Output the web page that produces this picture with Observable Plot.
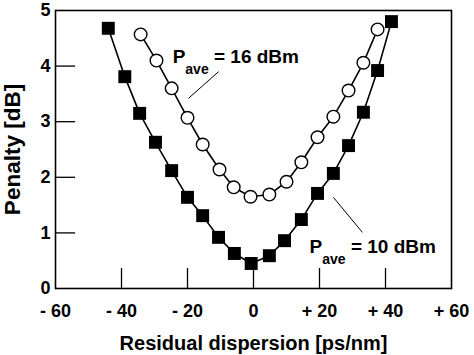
<!DOCTYPE html>
<html>
<head>
<meta charset="utf-8">
<script src="https://cdn.jsdelivr.net/npm/d3@7"></script>
<script src="https://cdn.jsdelivr.net/npm/@observablehq/plot@0.6"></script>
<style>
  html, body { margin: 0; padding: 0; background: #fff; }
  #chart svg { display: block; }
</style>
</head>
<body>
<div id="chart"></div>
<script>
// --- data ---
const squareX = [-44, -39, -34.5, -29.7, -24.8, -20, -15.4, -10.6, -5.8, -0.7, 4.8, 9.4, 14.5, 19.4, 24.2, 28.8, 33.3, 37.6, 41.8];
const squareY = [4.68, 3.81, 3.15, 2.63, 2.12, 1.64, 1.31, 0.92, 0.63, 0.45, 0.59, 0.86, 1.24, 1.71, 2.07, 2.57, 3.17, 3.92, 4.80];
const circleX = [-34.2, -29.4, -24.8, -20, -15.4, -10.3, -6, -0.9, 4.8, 10, 14.5, 19.4, 24.2, 28.8, 33.3, 37.6];
const circleY = [4.57, 4.10, 3.60, 3.07, 2.59, 2.14, 1.82, 1.65, 1.69, 1.92, 2.27, 2.72, 3.09, 3.56, 4.06, 4.66];

const xTickValues = [-60, -40, -20, 0, 20, 40, 60];
const xTickLabels = ["- 60", "- 40", "- 20", "0", "+ 20", "+ 40", "+ 60"];
const yTickValues = [0, 1, 2, 3, 4, 5];
const yTickLabels = ["0", "1", "2", "3", "4", "5"];
const xInnerTicks = [-40, -20, 0, 20, 40];
const yInnerTicks = [1, 2, 3, 4];

const xTitle = "Residual dispersion [ps/nm]";
const yTitle = "Penalty [dB]";

const annotations = [
  {key: "ann16", main: "P", sub: "ave", rest: " = 16 dBm", x: -24.5, y: 4.05, lx1: -19.7, ly1: 3.42, lx2: -10.6, ly2: 3.90},
  {key: "ann10", main: "P", sub: "ave", rest: " = 10 dBm", x: 17, y: 0.63, lx1: 24.2, ly1: 1.64, lx2: 33.0, ly2: 1.01}
];

const squares = squareX.map((x, i) => ({x, y: squareY[i]}));
const circles = circleX.map((x, i) => ({x, y: circleY[i]}));

const FONT = "'Liberation Sans', Arial, Helvetica, sans-serif";

const chart = Plot.plot({
  width: 474,
  height: 355,
  marginLeft: 55,
  marginRight: 23,
  marginTop: 10,
  marginBottom: 67,
  x: {domain: [-60, 60]},
  y: {domain: [0, 5]},
  style: {fontFamily: FONT, background: "#fff", color: "#000", overflow: "visible"},
  marks: [
    Plot.frame({stroke: "#000", strokeWidth: 1.6}),
    Plot.ruleX(xInnerTicks, {x: d => d, y1: 0, y2: 0.36, stroke: "#000", strokeWidth: 1.3}),
    Plot.ruleY(yInnerTicks, {y: d => d, x1: -60, x2: -53.9, stroke: "#000", strokeWidth: 1.3}),
    Plot.axisX({ticks: xTickValues, tickSize: 0, tickPadding: 16, label: null,
      tickFormat: d => xTickLabels[xTickValues.indexOf(d)], fontSize: 18, fontWeight: "bold", fill: "#000",
      letterSpacing: 1.5}),
    Plot.axisY({ticks: yTickValues, tickSize: 0, tickPadding: 5, label: null,
      tickFormat: d => yTickLabels[yTickValues.indexOf(d)], fontSize: 18, fontWeight: "bold", fill: "#000"}),
    Plot.text([xTitle], {frameAnchor: "bottom", textAnchor: "middle", lineAnchor: "bottom", dy: 61,
      text: d => d, fontSize: 20, fontWeight: "bold", fill: "#000", letterSpacing: 1}),
    Plot.text([yTitle], {frameAnchor: "left", textAnchor: "middle", lineAnchor: "middle", dx: -43, rotate: -90,
      text: d => d, fontSize: 22.5, fontWeight: "bold", fill: "#000"}),
    Plot.line(squares, {x: "x", y: "y", stroke: "#000", strokeWidth: 1.6}),
    Plot.line(circles, {x: "x", y: "y", stroke: "#000", strokeWidth: 1.6}),
    Plot.dot(squares, {x: "x", y: "y", symbol: "square", r: 7.3, fill: "#000", stroke: "none"}),
    Plot.dot(circles, {x: "x", y: "y", symbol: "circle", r: 6.3, fill: "#fff", stroke: "#000", strokeWidth: 1.4}),
    Plot.link(annotations, {x1: "lx1", y1: "ly1", x2: "lx2", y2: "ly2", stroke: "#000", strokeWidth: 1}),
    Plot.text(annotations, {x: "x", y: "y", text: "key", textAnchor: "start", lineAnchor: "bottom", fontSize: 19, fontWeight: "bold", fill: "#000", letterSpacing: 0.3})
  ]
});

// turn annotation placeholders into text with subscripts
d3.select(chart).selectAll("text").each(function() {
  const el = d3.select(this);
  const a = annotations.find(a => a.key === el.text());
  if (!a) return;
  el.text(null);
  el.append("tspan").text(a.main);
  el.append("tspan").attr("font-size", 14).attr("dy", 11).text(a.sub);
  el.append("tspan").attr("dy", -11).text(a.rest);
});

document.getElementById("chart").appendChild(chart);
</script>
</body>
</html>
